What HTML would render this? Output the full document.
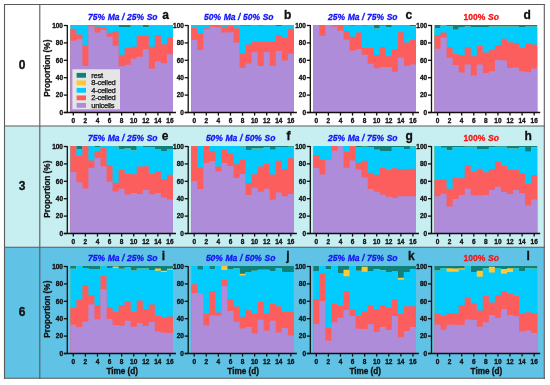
<!DOCTYPE html>
<html><head><meta charset="utf-8"><style>
html,body{margin:0;padding:0;background:#fff;}
svg{display:block;}
text{font-family:"Liberation Sans",Arial,sans-serif;font-weight:bold;fill:#111;}
.yt{font-size:6.5px;text-anchor:end;stroke:#111;stroke-width:0.3px;}
.xt{font-size:6.5px;text-anchor:middle;stroke:#111;stroke-width:0.3px;}
.yl{font-size:8.5px;text-anchor:middle;stroke:#111;stroke-width:0.25px;}
.xl{font-size:8.7px;stroke:#111;stroke-width:0.35px;}
.tt{font-size:8.5px;font-style:italic;fill:#1414f8;stroke:#1414f8;stroke-width:0.3px;word-spacing:0.25px;}
.tr{font-size:8.5px;fill:#fa1414;stroke:#fa1414;stroke-width:0.3px;word-spacing:0.4px;}
.lt{font-size:12px;stroke:#111;stroke-width:0.3px;}
.lg{font-size:7.6px;font-weight:normal;fill:#111;stroke:#111;stroke-width:0.25px;letter-spacing:-0.3px;}
.rl{font-size:12px;text-anchor:middle;stroke:#111;stroke-width:0.3px;}
</style></head><body>
<svg width="550" height="385" viewBox="0 0 550 385">
<rect x="0" y="0" width="550" height="385" fill="#fff"/>
<rect x="4" y="126" width="540" height="121.3" fill="#c7eef1"/>
<rect x="4" y="247.3" width="540" height="131" fill="#60c2e4"/>
<rect x="70.30" y="25.00" width="102.68" height="87.00" fill="#10807b"/>
<path d="M70.30 112 L70.30 25.00 L76.34 25.00 L76.34 25.00 L82.38 25.00 L82.38 25.00 L88.42 25.00 L88.42 25.00 L94.46 25.00 L94.46 25.00 L100.50 25.00 L100.50 25.00 L106.54 25.00 L106.54 25.00 L112.58 25.00 L112.58 25.00 L118.62 25.00 L118.62 27.00 L124.66 27.00 L124.66 27.00 L130.70 27.00 L130.70 25.00 L136.74 25.00 L136.74 25.00 L142.78 25.00 L142.78 27.17 L148.82 27.17 L148.82 25.00 L154.86 25.00 L154.86 25.35 L160.90 25.35 L160.90 25.35 L166.94 25.35 L166.94 25.00 L172.98 25.00 L172.98 112 Z" fill="#ffc834"/>
<path d="M70.30 112 L70.30 25.00 L76.34 25.00 L76.34 25.00 L82.38 25.00 L82.38 25.00 L88.42 25.00 L88.42 25.00 L94.46 25.00 L94.46 25.00 L100.50 25.00 L100.50 25.00 L106.54 25.00 L106.54 25.00 L112.58 25.00 L112.58 25.00 L118.62 25.00 L118.62 27.00 L124.66 27.00 L124.66 27.00 L130.70 27.00 L130.70 25.00 L136.74 25.00 L136.74 25.00 L142.78 25.00 L142.78 27.17 L148.82 27.17 L148.82 25.00 L154.86 25.00 L154.86 25.35 L160.90 25.35 L160.90 25.35 L166.94 25.35 L166.94 25.00 L172.98 25.00 L172.98 112 Z" fill="#02ccfd"/>
<path d="M70.30 112 L70.30 28.74 L76.34 28.74 L76.34 34.48 L82.38 34.48 L82.38 45.71 L88.42 45.71 L88.42 25.00 L94.46 25.00 L94.46 26.74 L100.50 26.74 L100.50 27.87 L106.54 27.87 L106.54 32.74 L112.58 32.74 L112.58 31.70 L118.62 31.70 L118.62 54.67 L124.66 54.67 L124.66 47.97 L130.70 47.97 L130.70 46.66 L136.74 46.66 L136.74 35.70 L142.78 35.70 L142.78 35.53 L148.82 35.53 L148.82 46.84 L154.86 46.84 L154.86 35.00 L160.90 35.00 L160.90 44.23 L166.94 44.23 L166.94 37.70 L172.98 37.70 L172.98 112 Z" fill="#fc5e5e"/>
<path d="M70.30 112 L70.30 40.66 L76.34 40.66 L76.34 39.18 L82.38 39.18 L82.38 65.89 L88.42 65.89 L88.42 26.48 L94.46 26.48 L94.46 32.48 L100.50 32.48 L100.50 29.70 L106.54 29.70 L106.54 36.66 L112.58 36.66 L112.58 45.71 L118.62 45.71 L118.62 66.24 L124.66 66.24 L124.66 64.67 L130.70 64.67 L130.70 58.67 L136.74 58.67 L136.74 56.67 L142.78 56.67 L142.78 49.19 L148.82 49.19 L148.82 68.67 L154.86 68.67 L154.86 61.19 L160.90 61.19 L160.90 63.19 L166.94 63.19 L166.94 54.23 L172.98 54.23 L172.98 112 Z" fill="#af8cd9"/>
<path d="M67.30 25 V113 M63.80 112.5 H175.98" stroke="#111" stroke-width="1.3" fill="none"/>
<path d="M63.80 112.50 H67.3" stroke="#111" stroke-width="1.3"/>
<text x="63.00" y="114.80" class="yt">0</text>
<path d="M63.80 95.10 H67.3" stroke="#111" stroke-width="1.3"/>
<text x="63.00" y="97.40" class="yt">20</text>
<path d="M63.80 77.70 H67.3" stroke="#111" stroke-width="1.3"/>
<text x="63.00" y="80.00" class="yt">40</text>
<path d="M63.80 60.30 H67.3" stroke="#111" stroke-width="1.3"/>
<text x="63.00" y="62.60" class="yt">60</text>
<path d="M63.80 42.90 H67.3" stroke="#111" stroke-width="1.3"/>
<text x="63.00" y="45.20" class="yt">80</text>
<path d="M63.80 25.50 H67.3" stroke="#111" stroke-width="1.3"/>
<text x="63.00" y="27.80" class="yt">100</text>
<path d="M73.32 113 V115.6" stroke="#111" stroke-width="1.3"/>
<text x="73.32" y="122.60" class="xt">0</text>
<path d="M85.40 113 V115.6" stroke="#111" stroke-width="1.3"/>
<text x="85.40" y="122.60" class="xt">2</text>
<path d="M97.48 113 V115.6" stroke="#111" stroke-width="1.3"/>
<text x="97.48" y="122.60" class="xt">4</text>
<path d="M109.56 113 V115.6" stroke="#111" stroke-width="1.3"/>
<text x="109.56" y="122.60" class="xt">6</text>
<path d="M121.64 113 V115.6" stroke="#111" stroke-width="1.3"/>
<text x="121.64" y="122.60" class="xt">8</text>
<path d="M133.72 113 V115.6" stroke="#111" stroke-width="1.3"/>
<text x="133.72" y="122.60" class="xt">10</text>
<path d="M145.80 113 V115.6" stroke="#111" stroke-width="1.3"/>
<text x="145.80" y="122.60" class="xt">12</text>
<path d="M157.88 113 V115.6" stroke="#111" stroke-width="1.3"/>
<text x="157.88" y="122.60" class="xt">14</text>
<path d="M169.96 113 V115.6" stroke="#111" stroke-width="1.3"/>
<text x="169.96" y="122.60" class="xt">16</text>
<text transform="translate(49.90,68.20) rotate(-90)" class="yl" textLength="57.2" lengthAdjust="spacingAndGlyphs">Proportion (%)</text>
<text x="88.00" y="19.5" class="tt">75%<tspan> Ma</tspan> / 25%<tspan> So</tspan></text>
<text x="162.20" y="18.70" class="lt">a</text>
<rect x="191.20" y="25.00" width="102.68" height="87.00" fill="#10807b"/>
<path d="M191.20 112 L191.20 25.00 L197.24 25.00 L197.24 25.00 L203.28 25.00 L203.28 25.00 L209.32 25.00 L209.32 25.00 L215.36 25.00 L215.36 25.00 L221.40 25.00 L221.40 25.00 L227.44 25.00 L227.44 25.00 L233.48 25.00 L233.48 25.00 L239.52 25.00 L239.52 25.70 L245.56 25.70 L245.56 25.70 L251.60 25.70 L251.60 25.00 L257.64 25.00 L257.64 25.87 L263.68 25.87 L263.68 25.00 L269.72 25.00 L269.72 25.00 L275.76 25.00 L275.76 26.04 L281.80 26.04 L281.80 25.00 L287.84 25.00 L287.84 25.00 L293.88 25.00 L293.88 112 Z" fill="#ffc834"/>
<path d="M191.20 112 L191.20 25.00 L197.24 25.00 L197.24 25.00 L203.28 25.00 L203.28 25.00 L209.32 25.00 L209.32 25.00 L215.36 25.00 L215.36 25.00 L221.40 25.00 L221.40 25.00 L227.44 25.00 L227.44 25.00 L233.48 25.00 L233.48 25.00 L239.52 25.00 L239.52 25.70 L245.56 25.70 L245.56 25.70 L251.60 25.70 L251.60 25.00 L257.64 25.00 L257.64 25.87 L263.68 25.87 L263.68 25.00 L269.72 25.00 L269.72 25.00 L275.76 25.00 L275.76 26.04 L281.80 26.04 L281.80 25.00 L287.84 25.00 L287.84 25.00 L293.88 25.00 L293.88 112 Z" fill="#02ccfd"/>
<path d="M191.20 112 L191.20 27.96 L197.24 27.96 L197.24 33.96 L203.28 33.96 L203.28 28.22 L209.32 28.22 L209.32 25.00 L215.36 25.00 L215.36 25.44 L221.40 25.44 L221.40 26.74 L227.44 26.74 L227.44 25.96 L233.48 25.96 L233.48 28.31 L239.52 28.31 L239.52 53.80 L245.56 53.80 L245.56 44.49 L251.60 44.49 L251.60 41.97 L257.64 41.97 L257.64 41.97 L263.68 41.97 L263.68 41.97 L269.72 41.97 L269.72 41.18 L275.76 41.18 L275.76 35.00 L281.80 35.00 L281.80 37.96 L287.84 37.96 L287.84 28.83 L293.88 28.83 L293.88 112 Z" fill="#fc5e5e"/>
<path d="M191.20 112 L191.20 39.96 L197.24 39.96 L197.24 49.97 L203.28 49.97 L203.28 29.35 L209.32 29.35 L209.32 26.74 L215.36 26.74 L215.36 27.61 L221.40 27.61 L221.40 32.39 L227.44 32.39 L227.44 32.13 L233.48 32.13 L233.48 42.40 L239.52 42.40 L239.52 67.98 L245.56 67.98 L245.56 63.54 L251.60 63.54 L251.60 52.23 L257.64 52.23 L257.64 65.98 L263.68 65.98 L263.68 51.97 L269.72 51.97 L269.72 65.98 L275.76 65.98 L275.76 51.01 L281.80 51.01 L281.80 60.50 L287.84 60.50 L287.84 53.80 L293.88 53.80 L293.88 112 Z" fill="#af8cd9"/>
<path d="M188.20 25 V113 M184.70 112.5 H296.88" stroke="#111" stroke-width="1.3" fill="none"/>
<path d="M184.70 112.50 H188.2" stroke="#111" stroke-width="1.3"/>
<text x="183.90" y="114.80" class="yt">0</text>
<path d="M184.70 95.10 H188.2" stroke="#111" stroke-width="1.3"/>
<text x="183.90" y="97.40" class="yt">20</text>
<path d="M184.70 77.70 H188.2" stroke="#111" stroke-width="1.3"/>
<text x="183.90" y="80.00" class="yt">40</text>
<path d="M184.70 60.30 H188.2" stroke="#111" stroke-width="1.3"/>
<text x="183.90" y="62.60" class="yt">60</text>
<path d="M184.70 42.90 H188.2" stroke="#111" stroke-width="1.3"/>
<text x="183.90" y="45.20" class="yt">80</text>
<path d="M184.70 25.50 H188.2" stroke="#111" stroke-width="1.3"/>
<text x="183.90" y="27.80" class="yt">100</text>
<path d="M194.22 113 V115.6" stroke="#111" stroke-width="1.3"/>
<text x="194.22" y="122.60" class="xt">0</text>
<path d="M206.30 113 V115.6" stroke="#111" stroke-width="1.3"/>
<text x="206.30" y="122.60" class="xt">2</text>
<path d="M218.38 113 V115.6" stroke="#111" stroke-width="1.3"/>
<text x="218.38" y="122.60" class="xt">4</text>
<path d="M230.46 113 V115.6" stroke="#111" stroke-width="1.3"/>
<text x="230.46" y="122.60" class="xt">6</text>
<path d="M242.54 113 V115.6" stroke="#111" stroke-width="1.3"/>
<text x="242.54" y="122.60" class="xt">8</text>
<path d="M254.62 113 V115.6" stroke="#111" stroke-width="1.3"/>
<text x="254.62" y="122.60" class="xt">10</text>
<path d="M266.70 113 V115.6" stroke="#111" stroke-width="1.3"/>
<text x="266.70" y="122.60" class="xt">12</text>
<path d="M278.78 113 V115.6" stroke="#111" stroke-width="1.3"/>
<text x="278.78" y="122.60" class="xt">14</text>
<path d="M290.86 113 V115.6" stroke="#111" stroke-width="1.3"/>
<text x="290.86" y="122.60" class="xt">16</text>
<text x="204.00" y="19.5" class="tt">50%<tspan> Ma</tspan> / 50%<tspan> So</tspan></text>
<text x="284.00" y="18.70" class="lt">b</text>
<rect x="313.30" y="25.00" width="102.68" height="87.00" fill="#10807b"/>
<path d="M313.30 112 L313.30 25.00 L319.34 25.00 L319.34 25.00 L325.38 25.00 L325.38 25.00 L331.42 25.00 L331.42 25.00 L337.46 25.00 L337.46 25.00 L343.50 25.00 L343.50 25.00 L349.54 25.00 L349.54 25.70 L355.58 25.70 L355.58 25.00 L361.62 25.00 L361.62 25.70 L367.66 25.70 L367.66 25.00 L373.70 25.00 L373.70 28.48 L379.74 28.48 L379.74 25.87 L385.78 25.87 L385.78 27.00 L391.82 27.00 L391.82 25.00 L397.86 25.00 L397.86 25.61 L403.90 25.61 L403.90 25.00 L409.94 25.00 L409.94 26.31 L415.98 26.31 L415.98 112 Z" fill="#ffc834"/>
<path d="M313.30 112 L313.30 25.00 L319.34 25.00 L319.34 25.00 L325.38 25.00 L325.38 25.00 L331.42 25.00 L331.42 25.00 L337.46 25.00 L337.46 25.00 L343.50 25.00 L343.50 25.00 L349.54 25.00 L349.54 25.70 L355.58 25.70 L355.58 25.00 L361.62 25.00 L361.62 25.70 L367.66 25.70 L367.66 25.00 L373.70 25.00 L373.70 28.48 L379.74 28.48 L379.74 25.87 L385.78 25.87 L385.78 27.00 L391.82 27.00 L391.82 25.00 L397.86 25.00 L397.86 25.61 L403.90 25.61 L403.90 25.00 L409.94 25.00 L409.94 26.31 L415.98 26.31 L415.98 112 Z" fill="#02ccfd"/>
<path d="M313.30 112 L313.30 25.00 L319.34 25.00 L319.34 25.00 L325.38 25.00 L325.38 25.00 L331.42 25.00 L331.42 25.00 L337.46 25.00 L337.46 25.00 L343.50 25.00 L343.50 31.00 L349.54 31.00 L349.54 36.83 L355.58 36.83 L355.58 32.48 L361.62 32.48 L361.62 47.97 L367.66 47.97 L367.66 47.79 L373.70 47.79 L373.70 55.02 L379.74 55.02 L379.74 47.01 L385.78 47.01 L385.78 56.32 L391.82 56.32 L391.82 49.01 L397.86 49.01 L397.86 32.22 L403.90 32.22 L403.90 42.49 L409.94 42.49 L409.94 39.96 L415.98 39.96 L415.98 112 Z" fill="#fc5e5e"/>
<path d="M313.30 112 L313.30 25.00 L319.34 25.00 L319.34 35.79 L325.38 35.79 L325.38 25.00 L331.42 25.00 L331.42 26.57 L337.46 26.57 L337.46 30.83 L343.50 30.83 L343.50 39.53 L349.54 39.53 L349.54 50.84 L355.58 50.84 L355.58 49.01 L361.62 49.01 L361.62 54.67 L367.66 54.67 L367.66 63.80 L373.70 63.80 L373.70 68.24 L379.74 68.24 L379.74 67.02 L385.78 67.02 L385.78 67.02 L391.82 67.02 L391.82 71.81 L397.86 71.81 L397.86 57.54 L403.90 57.54 L403.90 65.98 L409.94 65.98 L409.94 64.50 L415.98 64.50 L415.98 112 Z" fill="#af8cd9"/>
<path d="M310.30 25 V113 M306.80 112.5 H418.98" stroke="#111" stroke-width="1.3" fill="none"/>
<path d="M306.80 112.50 H310.3" stroke="#111" stroke-width="1.3"/>
<text x="306.00" y="114.80" class="yt">0</text>
<path d="M306.80 95.10 H310.3" stroke="#111" stroke-width="1.3"/>
<text x="306.00" y="97.40" class="yt">20</text>
<path d="M306.80 77.70 H310.3" stroke="#111" stroke-width="1.3"/>
<text x="306.00" y="80.00" class="yt">40</text>
<path d="M306.80 60.30 H310.3" stroke="#111" stroke-width="1.3"/>
<text x="306.00" y="62.60" class="yt">60</text>
<path d="M306.80 42.90 H310.3" stroke="#111" stroke-width="1.3"/>
<text x="306.00" y="45.20" class="yt">80</text>
<path d="M306.80 25.50 H310.3" stroke="#111" stroke-width="1.3"/>
<text x="306.00" y="27.80" class="yt">100</text>
<path d="M316.32 113 V115.6" stroke="#111" stroke-width="1.3"/>
<text x="316.32" y="122.60" class="xt">0</text>
<path d="M328.40 113 V115.6" stroke="#111" stroke-width="1.3"/>
<text x="328.40" y="122.60" class="xt">2</text>
<path d="M340.48 113 V115.6" stroke="#111" stroke-width="1.3"/>
<text x="340.48" y="122.60" class="xt">4</text>
<path d="M352.56 113 V115.6" stroke="#111" stroke-width="1.3"/>
<text x="352.56" y="122.60" class="xt">6</text>
<path d="M364.64 113 V115.6" stroke="#111" stroke-width="1.3"/>
<text x="364.64" y="122.60" class="xt">8</text>
<path d="M376.72 113 V115.6" stroke="#111" stroke-width="1.3"/>
<text x="376.72" y="122.60" class="xt">10</text>
<path d="M388.80 113 V115.6" stroke="#111" stroke-width="1.3"/>
<text x="388.80" y="122.60" class="xt">12</text>
<path d="M400.88 113 V115.6" stroke="#111" stroke-width="1.3"/>
<text x="400.88" y="122.60" class="xt">14</text>
<path d="M412.96 113 V115.6" stroke="#111" stroke-width="1.3"/>
<text x="412.96" y="122.60" class="xt">16</text>
<text x="328.00" y="19.5" class="tt">25%<tspan> Ma</tspan> / 75%<tspan> So</tspan></text>
<text x="405.60" y="18.70" class="lt">c</text>
<rect x="434.50" y="25.00" width="102.68" height="87.00" fill="#10807b"/>
<path d="M434.50 112 L434.50 28.05 L440.54 28.05 L440.54 25.61 L446.58 25.61 L446.58 26.31 L452.62 26.31 L452.62 29.87 L458.66 29.87 L458.66 27.44 L464.70 27.44 L464.70 26.48 L470.74 26.48 L470.74 27.00 L476.78 27.00 L476.78 27.00 L482.82 27.00 L482.82 27.52 L488.86 27.52 L488.86 26.39 L494.90 26.39 L494.90 26.39 L500.94 26.39 L500.94 26.39 L506.98 26.39 L506.98 26.39 L513.02 26.39 L513.02 26.39 L519.06 26.39 L519.06 27.52 L525.10 27.52 L525.10 26.57 L531.14 26.57 L531.14 26.39 L537.18 26.39 L537.18 112 Z" fill="#ffc834"/>
<path d="M434.50 112 L434.50 28.05 L440.54 28.05 L440.54 25.61 L446.58 25.61 L446.58 26.31 L452.62 26.31 L452.62 29.87 L458.66 29.87 L458.66 27.44 L464.70 27.44 L464.70 26.48 L470.74 26.48 L470.74 27.00 L476.78 27.00 L476.78 27.00 L482.82 27.00 L482.82 27.52 L488.86 27.52 L488.86 26.39 L494.90 26.39 L494.90 26.39 L500.94 26.39 L500.94 26.39 L506.98 26.39 L506.98 26.39 L513.02 26.39 L513.02 26.39 L519.06 26.39 L519.06 27.52 L525.10 27.52 L525.10 26.57 L531.14 26.57 L531.14 26.39 L537.18 26.39 L537.18 112 Z" fill="#02ccfd"/>
<path d="M434.50 112 L434.50 35.00 L440.54 35.00 L440.54 32.48 L446.58 32.48 L446.58 47.19 L452.62 47.19 L452.62 53.97 L458.66 53.97 L458.66 55.02 L464.70 55.02 L464.70 47.10 L470.74 47.10 L470.74 56.23 L476.78 56.23 L476.78 45.88 L482.82 45.88 L482.82 52.49 L488.86 52.49 L488.86 49.80 L494.90 49.80 L494.90 45.01 L500.94 45.01 L500.94 38.83 L506.98 38.83 L506.98 42.31 L513.02 42.31 L513.02 43.01 L519.06 43.01 L519.06 47.97 L525.10 47.97 L525.10 43.27 L531.14 43.27 L531.14 44.49 L537.18 44.49 L537.18 112 Z" fill="#fc5e5e"/>
<path d="M434.50 112 L434.50 48.84 L440.54 48.84 L440.54 37.53 L446.58 37.53 L446.58 57.80 L452.62 57.80 L452.62 65.02 L458.66 65.02 L458.66 72.50 L464.70 72.50 L464.70 64.50 L470.74 64.50 L470.74 75.55 L476.78 75.55 L476.78 64.50 L482.82 64.50 L482.82 73.02 L488.86 73.02 L488.86 71.20 L494.90 71.20 L494.90 59.97 L500.94 59.97 L500.94 60.50 L506.98 60.50 L506.98 67.98 L513.02 67.98 L513.02 67.54 L519.06 67.54 L519.06 71.20 L525.10 71.20 L525.10 72.24 L531.14 72.24 L531.14 68.50 L537.18 68.50 L537.18 112 Z" fill="#af8cd9"/>
<path d="M431.50 25 V113 M428.00 112.5 H540.18" stroke="#111" stroke-width="1.3" fill="none"/>
<path d="M428.00 112.50 H431.5" stroke="#111" stroke-width="1.3"/>
<text x="427.20" y="114.80" class="yt">0</text>
<path d="M428.00 95.10 H431.5" stroke="#111" stroke-width="1.3"/>
<text x="427.20" y="97.40" class="yt">20</text>
<path d="M428.00 77.70 H431.5" stroke="#111" stroke-width="1.3"/>
<text x="427.20" y="80.00" class="yt">40</text>
<path d="M428.00 60.30 H431.5" stroke="#111" stroke-width="1.3"/>
<text x="427.20" y="62.60" class="yt">60</text>
<path d="M428.00 42.90 H431.5" stroke="#111" stroke-width="1.3"/>
<text x="427.20" y="45.20" class="yt">80</text>
<path d="M428.00 25.50 H431.5" stroke="#111" stroke-width="1.3"/>
<text x="427.20" y="27.80" class="yt">100</text>
<path d="M437.52 113 V115.6" stroke="#111" stroke-width="1.3"/>
<text x="437.52" y="122.60" class="xt">0</text>
<path d="M449.60 113 V115.6" stroke="#111" stroke-width="1.3"/>
<text x="449.60" y="122.60" class="xt">2</text>
<path d="M461.68 113 V115.6" stroke="#111" stroke-width="1.3"/>
<text x="461.68" y="122.60" class="xt">4</text>
<path d="M473.76 113 V115.6" stroke="#111" stroke-width="1.3"/>
<text x="473.76" y="122.60" class="xt">6</text>
<path d="M485.84 113 V115.6" stroke="#111" stroke-width="1.3"/>
<text x="485.84" y="122.60" class="xt">8</text>
<path d="M497.92 113 V115.6" stroke="#111" stroke-width="1.3"/>
<text x="497.92" y="122.60" class="xt">10</text>
<path d="M510.00 113 V115.6" stroke="#111" stroke-width="1.3"/>
<text x="510.00" y="122.60" class="xt">12</text>
<path d="M522.08 113 V115.6" stroke="#111" stroke-width="1.3"/>
<text x="522.08" y="122.60" class="xt">14</text>
<path d="M534.16 113 V115.6" stroke="#111" stroke-width="1.3"/>
<text x="534.16" y="122.60" class="xt">16</text>
<text x="463.60" y="19.5" class="tr">100% <tspan font-style="italic">So</tspan></text>
<text x="523.60" y="18.70" class="lt">d</text>
<rect x="70.30" y="146.00" width="102.68" height="87.00" fill="#10807b"/>
<path d="M70.30 233 L70.30 146.00 L76.34 146.00 L76.34 149.48 L82.38 149.48 L82.38 146.00 L88.42 146.00 L88.42 146.00 L94.46 146.00 L94.46 147.31 L100.50 147.31 L100.50 146.00 L106.54 146.00 L106.54 146.00 L112.58 146.00 L112.58 146.44 L118.62 146.44 L118.62 148.96 L124.66 148.96 L124.66 148.52 L130.70 148.52 L130.70 150.26 L136.74 150.26 L136.74 146.00 L142.78 146.00 L142.78 146.96 L148.82 146.96 L148.82 146.96 L154.86 146.96 L154.86 148.96 L160.90 148.96 L160.90 151.48 L166.94 151.48 L166.94 148.96 L172.98 148.96 L172.98 233 Z" fill="#ffc834"/>
<path d="M70.30 233 L70.30 146.00 L76.34 146.00 L76.34 149.48 L82.38 149.48 L82.38 146.00 L88.42 146.00 L88.42 146.00 L94.46 146.00 L94.46 147.31 L100.50 147.31 L100.50 146.00 L106.54 146.00 L106.54 146.00 L112.58 146.00 L112.58 146.44 L118.62 146.44 L118.62 148.96 L124.66 148.96 L124.66 148.52 L130.70 148.52 L130.70 150.26 L136.74 150.26 L136.74 146.00 L142.78 146.00 L142.78 146.96 L148.82 146.96 L148.82 146.96 L154.86 146.96 L154.86 148.96 L160.90 148.96 L160.90 151.48 L166.94 151.48 L166.94 148.96 L172.98 148.96 L172.98 233 Z" fill="#02ccfd"/>
<path d="M70.30 233 L70.30 146.00 L76.34 146.00 L76.34 156.00 L82.38 156.00 L82.38 146.00 L88.42 146.00 L88.42 160.53 L94.46 160.53 L94.46 151.48 L100.50 151.48 L100.50 148.00 L106.54 148.00 L106.54 165.49 L112.58 165.49 L112.58 182.80 L118.62 182.80 L118.62 170.01 L124.66 170.01 L124.66 174.01 L130.70 174.01 L130.70 174.28 L136.74 174.28 L136.74 166.53 L142.78 166.53 L142.78 166.18 L148.82 166.18 L148.82 174.01 L154.86 174.01 L154.86 171.23 L160.90 171.23 L160.90 179.15 L166.94 179.15 L166.94 174.80 L172.98 174.80 L172.98 233 Z" fill="#fc5e5e"/>
<path d="M70.30 233 L70.30 171.93 L76.34 171.93 L76.34 182.19 L82.38 182.19 L82.38 188.54 L88.42 188.54 L88.42 168.01 L94.46 168.01 L94.46 158.01 L100.50 158.01 L100.50 166.53 L106.54 166.53 L106.54 181.76 L112.58 181.76 L112.58 191.50 L118.62 191.50 L118.62 188.63 L124.66 188.63 L124.66 194.46 L130.70 194.46 L130.70 192.98 L136.74 192.98 L136.74 194.02 L142.78 194.02 L142.78 190.02 L148.82 190.02 L148.82 194.20 L154.86 194.20 L154.86 192.98 L160.90 192.98 L160.90 197.50 L166.94 197.50 L166.94 199.50 L172.98 199.50 L172.98 233 Z" fill="#af8cd9"/>
<path d="M67.30 146 V234 M63.80 233.5 H175.98" stroke="#111" stroke-width="1.3" fill="none"/>
<path d="M63.80 233.50 H67.3" stroke="#111" stroke-width="1.3"/>
<text x="63.00" y="235.80" class="yt">0</text>
<path d="M63.80 216.10 H67.3" stroke="#111" stroke-width="1.3"/>
<text x="63.00" y="218.40" class="yt">20</text>
<path d="M63.80 198.70 H67.3" stroke="#111" stroke-width="1.3"/>
<text x="63.00" y="201.00" class="yt">40</text>
<path d="M63.80 181.30 H67.3" stroke="#111" stroke-width="1.3"/>
<text x="63.00" y="183.60" class="yt">60</text>
<path d="M63.80 163.90 H67.3" stroke="#111" stroke-width="1.3"/>
<text x="63.00" y="166.20" class="yt">80</text>
<path d="M63.80 146.50 H67.3" stroke="#111" stroke-width="1.3"/>
<text x="63.00" y="148.80" class="yt">100</text>
<path d="M73.32 234 V236.6" stroke="#111" stroke-width="1.3"/>
<text x="73.32" y="243.60" class="xt">0</text>
<path d="M85.40 234 V236.6" stroke="#111" stroke-width="1.3"/>
<text x="85.40" y="243.60" class="xt">2</text>
<path d="M97.48 234 V236.6" stroke="#111" stroke-width="1.3"/>
<text x="97.48" y="243.60" class="xt">4</text>
<path d="M109.56 234 V236.6" stroke="#111" stroke-width="1.3"/>
<text x="109.56" y="243.60" class="xt">6</text>
<path d="M121.64 234 V236.6" stroke="#111" stroke-width="1.3"/>
<text x="121.64" y="243.60" class="xt">8</text>
<path d="M133.72 234 V236.6" stroke="#111" stroke-width="1.3"/>
<text x="133.72" y="243.60" class="xt">10</text>
<path d="M145.80 234 V236.6" stroke="#111" stroke-width="1.3"/>
<text x="145.80" y="243.60" class="xt">12</text>
<path d="M157.88 234 V236.6" stroke="#111" stroke-width="1.3"/>
<text x="157.88" y="243.60" class="xt">14</text>
<path d="M169.96 234 V236.6" stroke="#111" stroke-width="1.3"/>
<text x="169.96" y="243.60" class="xt">16</text>
<text transform="translate(49.90,189.20) rotate(-90)" class="yl" textLength="57.2" lengthAdjust="spacingAndGlyphs">Proportion (%)</text>
<text x="88.00" y="140.5" class="tt">75%<tspan> Ma</tspan> / 25%<tspan> So</tspan></text>
<text x="161.70" y="139.70" class="lt">e</text>
<rect x="191.20" y="146.00" width="102.68" height="87.00" fill="#10807b"/>
<path d="M191.20 233 L191.20 146.00 L197.24 146.00 L197.24 146.00 L203.28 146.00 L203.28 146.00 L209.32 146.00 L209.32 146.00 L215.36 146.00 L215.36 146.00 L221.40 146.00 L221.40 146.00 L227.44 146.00 L227.44 146.00 L233.48 146.00 L233.48 146.00 L239.52 146.00 L239.52 146.44 L245.56 146.44 L245.56 150.00 L251.60 150.00 L251.60 148.52 L257.64 148.52 L257.64 148.52 L263.68 148.52 L263.68 147.31 L269.72 147.31 L269.72 149.83 L275.76 149.83 L275.76 147.31 L281.80 147.31 L281.80 146.96 L287.84 146.96 L287.84 146.78 L293.88 146.78 L293.88 233 Z" fill="#ffc834"/>
<path d="M191.20 233 L191.20 146.00 L197.24 146.00 L197.24 146.00 L203.28 146.00 L203.28 146.00 L209.32 146.00 L209.32 146.00 L215.36 146.00 L215.36 146.00 L221.40 146.00 L221.40 146.00 L227.44 146.00 L227.44 146.00 L233.48 146.00 L233.48 146.00 L239.52 146.00 L239.52 146.44 L245.56 146.44 L245.56 150.00 L251.60 150.00 L251.60 148.52 L257.64 148.52 L257.64 148.52 L263.68 148.52 L263.68 147.31 L269.72 147.31 L269.72 149.83 L275.76 149.83 L275.76 147.31 L281.80 147.31 L281.80 146.96 L287.84 146.96 L287.84 146.78 L293.88 146.78 L293.88 233 Z" fill="#02ccfd"/>
<path d="M191.20 233 L191.20 146.00 L197.24 146.00 L197.24 167.49 L203.28 167.49 L203.28 146.00 L209.32 146.00 L209.32 150.96 L215.36 150.96 L215.36 166.53 L221.40 166.53 L221.40 149.83 L227.44 149.83 L227.44 153.48 L233.48 153.48 L233.48 164.27 L239.52 164.27 L239.52 159.49 L245.56 159.49 L245.56 182.97 L251.60 182.97 L251.60 174.28 L257.64 174.28 L257.64 166.53 L263.68 166.53 L263.68 163.83 L269.72 163.83 L269.72 174.54 L275.76 174.54 L275.76 160.79 L281.80 160.79 L281.80 168.97 L287.84 168.97 L287.84 158.18 L293.88 158.18 L293.88 233 Z" fill="#fc5e5e"/>
<path d="M191.20 233 L191.20 180.97 L197.24 180.97 L197.24 188.98 L203.28 188.98 L203.28 162.97 L209.32 162.97 L209.32 160.96 L215.36 160.96 L215.36 171.49 L221.40 171.49 L221.40 162.97 L227.44 162.97 L227.44 166.01 L233.48 166.01 L233.48 177.93 L239.52 177.93 L239.52 174.01 L245.56 174.01 L245.56 194.98 L251.60 194.98 L251.60 187.76 L257.64 187.76 L257.64 191.76 L263.68 191.76 L263.68 188.80 L269.72 188.80 L269.72 199.77 L275.76 199.77 L275.76 192.46 L281.80 192.46 L281.80 196.20 L287.84 196.20 L287.84 194.02 L293.88 194.02 L293.88 233 Z" fill="#af8cd9"/>
<path d="M188.20 146 V234 M184.70 233.5 H296.88" stroke="#111" stroke-width="1.3" fill="none"/>
<path d="M184.70 233.50 H188.2" stroke="#111" stroke-width="1.3"/>
<text x="183.90" y="235.80" class="yt">0</text>
<path d="M184.70 216.10 H188.2" stroke="#111" stroke-width="1.3"/>
<text x="183.90" y="218.40" class="yt">20</text>
<path d="M184.70 198.70 H188.2" stroke="#111" stroke-width="1.3"/>
<text x="183.90" y="201.00" class="yt">40</text>
<path d="M184.70 181.30 H188.2" stroke="#111" stroke-width="1.3"/>
<text x="183.90" y="183.60" class="yt">60</text>
<path d="M184.70 163.90 H188.2" stroke="#111" stroke-width="1.3"/>
<text x="183.90" y="166.20" class="yt">80</text>
<path d="M184.70 146.50 H188.2" stroke="#111" stroke-width="1.3"/>
<text x="183.90" y="148.80" class="yt">100</text>
<path d="M194.22 234 V236.6" stroke="#111" stroke-width="1.3"/>
<text x="194.22" y="243.60" class="xt">0</text>
<path d="M206.30 234 V236.6" stroke="#111" stroke-width="1.3"/>
<text x="206.30" y="243.60" class="xt">2</text>
<path d="M218.38 234 V236.6" stroke="#111" stroke-width="1.3"/>
<text x="218.38" y="243.60" class="xt">4</text>
<path d="M230.46 234 V236.6" stroke="#111" stroke-width="1.3"/>
<text x="230.46" y="243.60" class="xt">6</text>
<path d="M242.54 234 V236.6" stroke="#111" stroke-width="1.3"/>
<text x="242.54" y="243.60" class="xt">8</text>
<path d="M254.62 234 V236.6" stroke="#111" stroke-width="1.3"/>
<text x="254.62" y="243.60" class="xt">10</text>
<path d="M266.70 234 V236.6" stroke="#111" stroke-width="1.3"/>
<text x="266.70" y="243.60" class="xt">12</text>
<path d="M278.78 234 V236.6" stroke="#111" stroke-width="1.3"/>
<text x="278.78" y="243.60" class="xt">14</text>
<path d="M290.86 234 V236.6" stroke="#111" stroke-width="1.3"/>
<text x="290.86" y="243.60" class="xt">16</text>
<text x="205.90" y="140.5" class="tt">50%<tspan> Ma</tspan> / 50%<tspan> So</tspan></text>
<text x="286.60" y="139.70" class="lt">f</text>
<rect x="313.30" y="146.00" width="102.68" height="87.00" fill="#10807b"/>
<path d="M313.30 233 L313.30 146.00 L319.34 146.00 L319.34 146.00 L325.38 146.00 L325.38 146.00 L331.42 146.00 L331.42 146.00 L337.46 146.00 L337.46 146.00 L343.50 146.00 L343.50 146.00 L349.54 146.00 L349.54 146.00 L355.58 146.00 L355.58 147.31 L361.62 147.31 L361.62 146.70 L367.66 146.70 L367.66 146.96 L373.70 146.96 L373.70 149.83 L379.74 149.83 L379.74 151.48 L385.78 151.48 L385.78 151.48 L391.82 151.48 L391.82 147.31 L397.86 147.31 L397.86 146.96 L403.90 146.96 L403.90 148.96 L409.94 148.96 L409.94 146.61 L415.98 146.61 L415.98 233 Z" fill="#ffc834"/>
<path d="M313.30 233 L313.30 146.00 L319.34 146.00 L319.34 146.00 L325.38 146.00 L325.38 146.00 L331.42 146.00 L331.42 146.00 L337.46 146.00 L337.46 146.00 L343.50 146.00 L343.50 146.00 L349.54 146.00 L349.54 146.00 L355.58 146.00 L355.58 147.31 L361.62 147.31 L361.62 146.70 L367.66 146.70 L367.66 146.96 L373.70 146.96 L373.70 149.83 L379.74 149.83 L379.74 151.48 L385.78 151.48 L385.78 151.48 L391.82 151.48 L391.82 147.31 L397.86 147.31 L397.86 146.96 L403.90 146.96 L403.90 148.96 L409.94 148.96 L409.94 146.61 L415.98 146.61 L415.98 233 Z" fill="#02ccfd"/>
<path d="M313.30 233 L313.30 154.96 L319.34 154.96 L319.34 160.01 L325.38 160.01 L325.38 160.01 L331.42 160.01 L331.42 146.00 L337.46 146.00 L337.46 146.00 L343.50 146.00 L343.50 152.00 L349.54 152.00 L349.54 146.00 L355.58 146.00 L355.58 162.79 L361.62 162.79 L361.62 160.79 L367.66 160.79 L367.66 172.80 L373.70 172.80 L373.70 174.80 L379.74 174.80 L379.74 168.01 L385.78 168.01 L385.78 170.01 L391.82 170.01 L391.82 168.19 L397.86 168.19 L397.86 168.97 L403.90 168.97 L403.90 169.49 L409.94 169.49 L409.94 168.79 L415.98 168.79 L415.98 233 Z" fill="#fc5e5e"/>
<path d="M313.30 233 L313.30 168.01 L319.34 168.01 L319.34 174.54 L325.38 174.54 L325.38 160.01 L331.42 160.01 L331.42 150.78 L337.46 150.78 L337.46 146.00 L343.50 146.00 L343.50 167.84 L349.54 167.84 L349.54 160.53 L355.58 160.53 L355.58 169.58 L361.62 169.58 L361.62 177.49 L367.66 177.49 L367.66 188.98 L373.70 188.98 L373.70 191.76 L379.74 191.76 L379.74 194.46 L385.78 194.46 L385.78 196.81 L391.82 196.81 L391.82 198.03 L397.86 198.03 L397.86 196.20 L403.90 196.20 L403.90 196.20 L409.94 196.20 L409.94 196.20 L415.98 196.20 L415.98 233 Z" fill="#af8cd9"/>
<path d="M310.30 146 V234 M306.80 233.5 H418.98" stroke="#111" stroke-width="1.3" fill="none"/>
<path d="M306.80 233.50 H310.3" stroke="#111" stroke-width="1.3"/>
<text x="306.00" y="235.80" class="yt">0</text>
<path d="M306.80 216.10 H310.3" stroke="#111" stroke-width="1.3"/>
<text x="306.00" y="218.40" class="yt">20</text>
<path d="M306.80 198.70 H310.3" stroke="#111" stroke-width="1.3"/>
<text x="306.00" y="201.00" class="yt">40</text>
<path d="M306.80 181.30 H310.3" stroke="#111" stroke-width="1.3"/>
<text x="306.00" y="183.60" class="yt">60</text>
<path d="M306.80 163.90 H310.3" stroke="#111" stroke-width="1.3"/>
<text x="306.00" y="166.20" class="yt">80</text>
<path d="M306.80 146.50 H310.3" stroke="#111" stroke-width="1.3"/>
<text x="306.00" y="148.80" class="yt">100</text>
<path d="M316.32 234 V236.6" stroke="#111" stroke-width="1.3"/>
<text x="316.32" y="243.60" class="xt">0</text>
<path d="M328.40 234 V236.6" stroke="#111" stroke-width="1.3"/>
<text x="328.40" y="243.60" class="xt">2</text>
<path d="M340.48 234 V236.6" stroke="#111" stroke-width="1.3"/>
<text x="340.48" y="243.60" class="xt">4</text>
<path d="M352.56 234 V236.6" stroke="#111" stroke-width="1.3"/>
<text x="352.56" y="243.60" class="xt">6</text>
<path d="M364.64 234 V236.6" stroke="#111" stroke-width="1.3"/>
<text x="364.64" y="243.60" class="xt">8</text>
<path d="M376.72 234 V236.6" stroke="#111" stroke-width="1.3"/>
<text x="376.72" y="243.60" class="xt">10</text>
<path d="M388.80 234 V236.6" stroke="#111" stroke-width="1.3"/>
<text x="388.80" y="243.60" class="xt">12</text>
<path d="M400.88 234 V236.6" stroke="#111" stroke-width="1.3"/>
<text x="400.88" y="243.60" class="xt">14</text>
<path d="M412.96 234 V236.6" stroke="#111" stroke-width="1.3"/>
<text x="412.96" y="243.60" class="xt">16</text>
<text x="328.00" y="140.5" class="tt">25%<tspan> Ma</tspan> / 75%<tspan> So</tspan></text>
<text x="405.60" y="139.70" class="lt">g</text>
<rect x="434.50" y="146.00" width="102.68" height="87.00" fill="#10807b"/>
<path d="M434.50 233 L434.50 146.00 L440.54 146.00 L440.54 147.74 L446.58 147.74 L446.58 150.26 L452.62 150.26 L452.62 147.31 L458.66 147.31 L458.66 147.31 L464.70 147.31 L464.70 146.87 L470.74 146.87 L470.74 146.70 L476.78 146.70 L476.78 148.96 L482.82 148.96 L482.82 148.96 L488.86 148.96 L488.86 147.31 L494.90 147.31 L494.90 146.87 L500.94 146.87 L500.94 146.87 L506.98 146.87 L506.98 148.52 L513.02 148.52 L513.02 148.52 L519.06 148.52 L519.06 147.31 L525.10 147.31 L525.10 151.83 L531.14 151.83 L531.14 147.31 L537.18 147.31 L537.18 233 Z" fill="#ffc834"/>
<path d="M434.50 233 L434.50 146.00 L440.54 146.00 L440.54 147.74 L446.58 147.74 L446.58 150.26 L452.62 150.26 L452.62 147.31 L458.66 147.31 L458.66 147.31 L464.70 147.31 L464.70 146.87 L470.74 146.87 L470.74 146.70 L476.78 146.70 L476.78 148.96 L482.82 148.96 L482.82 148.96 L488.86 148.96 L488.86 147.31 L494.90 147.31 L494.90 146.87 L500.94 146.87 L500.94 146.87 L506.98 146.87 L506.98 148.52 L513.02 148.52 L513.02 148.52 L519.06 148.52 L519.06 147.31 L525.10 147.31 L525.10 151.83 L531.14 151.83 L531.14 147.31 L537.18 147.31 L537.18 233 Z" fill="#02ccfd"/>
<path d="M434.50 233 L434.50 180.02 L440.54 180.02 L440.54 179.50 L446.58 179.50 L446.58 188.80 L452.62 188.80 L452.62 178.02 L458.66 178.02 L458.66 178.19 L464.70 178.19 L464.70 164.97 L470.74 164.97 L470.74 171.84 L476.78 171.84 L476.78 168.79 L482.82 168.79 L482.82 172.19 L488.86 172.19 L488.86 169.23 L494.90 169.23 L494.90 161.49 L500.94 161.49 L500.94 166.01 L506.98 166.01 L506.98 170.01 L513.02 170.01 L513.02 170.01 L519.06 170.01 L519.06 173.32 L525.10 173.32 L525.10 183.50 L531.14 183.50 L531.14 174.97 L537.18 174.97 L537.18 233 Z" fill="#fc5e5e"/>
<path d="M434.50 233 L434.50 196.20 L440.54 196.20 L440.54 193.85 L446.58 193.85 L446.58 206.47 L452.62 206.47 L452.62 199.07 L458.66 199.07 L458.66 194.98 L464.70 194.98 L464.70 188.80 L470.74 188.80 L470.74 195.50 L476.78 195.50 L476.78 195.50 L482.82 195.50 L482.82 194.98 L488.86 194.98 L488.86 190.02 L494.90 190.02 L494.90 186.80 L500.94 186.80 L500.94 192.02 L506.98 192.02 L506.98 194.02 L513.02 194.02 L513.02 190.02 L519.06 190.02 L519.06 192.98 L525.10 192.98 L525.10 205.51 L531.14 205.51 L531.14 199.50 L537.18 199.50 L537.18 233 Z" fill="#af8cd9"/>
<path d="M431.50 146 V234 M428.00 233.5 H540.18" stroke="#111" stroke-width="1.3" fill="none"/>
<path d="M428.00 233.50 H431.5" stroke="#111" stroke-width="1.3"/>
<text x="427.20" y="235.80" class="yt">0</text>
<path d="M428.00 216.10 H431.5" stroke="#111" stroke-width="1.3"/>
<text x="427.20" y="218.40" class="yt">20</text>
<path d="M428.00 198.70 H431.5" stroke="#111" stroke-width="1.3"/>
<text x="427.20" y="201.00" class="yt">40</text>
<path d="M428.00 181.30 H431.5" stroke="#111" stroke-width="1.3"/>
<text x="427.20" y="183.60" class="yt">60</text>
<path d="M428.00 163.90 H431.5" stroke="#111" stroke-width="1.3"/>
<text x="427.20" y="166.20" class="yt">80</text>
<path d="M428.00 146.50 H431.5" stroke="#111" stroke-width="1.3"/>
<text x="427.20" y="148.80" class="yt">100</text>
<path d="M437.52 234 V236.6" stroke="#111" stroke-width="1.3"/>
<text x="437.52" y="243.60" class="xt">0</text>
<path d="M449.60 234 V236.6" stroke="#111" stroke-width="1.3"/>
<text x="449.60" y="243.60" class="xt">2</text>
<path d="M461.68 234 V236.6" stroke="#111" stroke-width="1.3"/>
<text x="461.68" y="243.60" class="xt">4</text>
<path d="M473.76 234 V236.6" stroke="#111" stroke-width="1.3"/>
<text x="473.76" y="243.60" class="xt">6</text>
<path d="M485.84 234 V236.6" stroke="#111" stroke-width="1.3"/>
<text x="485.84" y="243.60" class="xt">8</text>
<path d="M497.92 234 V236.6" stroke="#111" stroke-width="1.3"/>
<text x="497.92" y="243.60" class="xt">10</text>
<path d="M510.00 234 V236.6" stroke="#111" stroke-width="1.3"/>
<text x="510.00" y="243.60" class="xt">12</text>
<path d="M522.08 234 V236.6" stroke="#111" stroke-width="1.3"/>
<text x="522.08" y="243.60" class="xt">14</text>
<path d="M534.16 234 V236.6" stroke="#111" stroke-width="1.3"/>
<text x="534.16" y="243.60" class="xt">16</text>
<text x="463.60" y="140.5" class="tr">100% <tspan font-style="italic">So</tspan></text>
<text x="524.60" y="139.70" class="lt">h</text>
<rect x="70.30" y="266.00" width="102.68" height="87.00" fill="#10807b"/>
<path d="M70.30 353 L70.30 268.78 L76.34 268.78 L76.34 266.00 L82.38 266.00 L82.38 268.00 L88.42 268.00 L88.42 269.48 L94.46 269.48 L94.46 269.48 L100.50 269.48 L100.50 266.00 L106.54 266.00 L106.54 268.00 L112.58 268.00 L112.58 266.61 L118.62 266.61 L118.62 268.78 L124.66 268.78 L124.66 267.48 L130.70 267.48 L130.70 270.52 L136.74 270.52 L136.74 268.52 L142.78 268.52 L142.78 268.52 L148.82 268.52 L148.82 270.00 L154.86 270.00 L154.86 268.52 L160.90 268.52 L160.90 270.78 L166.94 270.78 L166.94 268.78 L172.98 268.78 L172.98 353 Z" fill="#ffc834"/>
<path d="M70.30 353 L70.30 268.78 L76.34 268.78 L76.34 266.00 L82.38 266.00 L82.38 268.00 L88.42 268.00 L88.42 269.48 L94.46 269.48 L94.46 269.48 L100.50 269.48 L100.50 266.00 L106.54 266.00 L106.54 268.00 L112.58 268.00 L112.58 268.00 L118.62 268.00 L118.62 268.78 L124.66 268.78 L124.66 267.48 L130.70 267.48 L130.70 270.52 L136.74 270.52 L136.74 268.52 L142.78 268.52 L142.78 268.52 L148.82 268.52 L148.82 270.00 L154.86 270.00 L154.86 270.78 L160.90 270.78 L160.90 272.00 L166.94 272.00 L166.94 269.83 L172.98 269.83 L172.98 353 Z" fill="#02ccfd"/>
<path d="M70.30 353 L70.30 307.50 L76.34 307.50 L76.34 300.02 L82.38 300.02 L82.38 284.97 L88.42 284.97 L88.42 294.97 L94.46 294.97 L94.46 304.98 L100.50 304.98 L100.50 276.00 L106.54 276.00 L106.54 307.24 L112.58 307.24 L112.58 311.76 L118.62 311.76 L118.62 304.98 L124.66 304.98 L124.66 300.97 L130.70 300.97 L130.70 311.76 L136.74 311.76 L136.74 300.54 L142.78 300.54 L142.78 308.98 L148.82 308.98 L148.82 304.54 L154.86 304.54 L154.86 316.02 L160.90 316.02 L160.90 317.50 L166.94 317.50 L166.94 316.46 L172.98 316.46 L172.98 353 Z" fill="#fc5e5e"/>
<path d="M70.30 353 L70.30 324.81 L76.34 324.81 L76.34 326.90 L82.38 326.90 L82.38 321.85 L88.42 321.85 L88.42 304.54 L94.46 304.54 L94.46 319.24 L100.50 319.24 L100.50 289.23 L106.54 289.23 L106.54 318.90 L112.58 318.90 L112.58 324.99 L118.62 324.99 L118.62 325.68 L124.66 325.68 L124.66 320.81 L130.70 320.81 L130.70 326.81 L136.74 326.81 L136.74 322.99 L142.78 322.99 L142.78 326.03 L148.82 326.03 L148.82 321.94 L154.86 321.94 L154.86 331.51 L160.90 331.51 L160.90 332.82 L166.94 332.82 L166.94 332.99 L172.98 332.99 L172.98 353 Z" fill="#af8cd9"/>
<path d="M67.30 266 V354 M63.80 353.5 H175.98" stroke="#111" stroke-width="1.3" fill="none"/>
<path d="M63.80 353.50 H67.3" stroke="#111" stroke-width="1.3"/>
<text x="63.00" y="355.80" class="yt">0</text>
<path d="M63.80 336.10 H67.3" stroke="#111" stroke-width="1.3"/>
<text x="63.00" y="338.40" class="yt">20</text>
<path d="M63.80 318.70 H67.3" stroke="#111" stroke-width="1.3"/>
<text x="63.00" y="321.00" class="yt">40</text>
<path d="M63.80 301.30 H67.3" stroke="#111" stroke-width="1.3"/>
<text x="63.00" y="303.60" class="yt">60</text>
<path d="M63.80 283.90 H67.3" stroke="#111" stroke-width="1.3"/>
<text x="63.00" y="286.20" class="yt">80</text>
<path d="M63.80 266.50 H67.3" stroke="#111" stroke-width="1.3"/>
<text x="63.00" y="268.80" class="yt">100</text>
<path d="M73.32 354 V356.6" stroke="#111" stroke-width="1.3"/>
<text x="73.32" y="363.60" class="xt">0</text>
<path d="M85.40 354 V356.6" stroke="#111" stroke-width="1.3"/>
<text x="85.40" y="363.60" class="xt">2</text>
<path d="M97.48 354 V356.6" stroke="#111" stroke-width="1.3"/>
<text x="97.48" y="363.60" class="xt">4</text>
<path d="M109.56 354 V356.6" stroke="#111" stroke-width="1.3"/>
<text x="109.56" y="363.60" class="xt">6</text>
<path d="M121.64 354 V356.6" stroke="#111" stroke-width="1.3"/>
<text x="121.64" y="363.60" class="xt">8</text>
<path d="M133.72 354 V356.6" stroke="#111" stroke-width="1.3"/>
<text x="133.72" y="363.60" class="xt">10</text>
<path d="M145.80 354 V356.6" stroke="#111" stroke-width="1.3"/>
<text x="145.80" y="363.60" class="xt">12</text>
<path d="M157.88 354 V356.6" stroke="#111" stroke-width="1.3"/>
<text x="157.88" y="363.60" class="xt">14</text>
<path d="M169.96 354 V356.6" stroke="#111" stroke-width="1.3"/>
<text x="169.96" y="363.60" class="xt">16</text>
<text transform="translate(49.90,309.20) rotate(-90)" class="yl" textLength="57.2" lengthAdjust="spacingAndGlyphs">Proportion (%)</text>
<text x="88.00" y="260.9" class="tt">75%<tspan> Ma</tspan> / 25%<tspan> So</tspan></text>
<text x="161.70" y="259.70" class="lt">i</text>
<text x="106.40" y="374.10" class="xl" textLength="31.7" lengthAdjust="spacingAndGlyphs">Time (d)</text>
<rect x="191.20" y="266.00" width="102.68" height="87.00" fill="#10807b"/>
<path d="M191.20 353 L191.20 266.00 L197.24 266.00 L197.24 269.74 L203.28 269.74 L203.28 266.00 L209.32 266.00 L209.32 269.48 L215.36 269.48 L215.36 266.00 L221.40 266.00 L221.40 266.00 L227.44 266.00 L227.44 269.48 L233.48 269.48 L233.48 268.35 L239.52 268.35 L239.52 273.66 L245.56 273.66 L245.56 272.00 L251.60 272.00 L251.60 270.78 L257.64 270.78 L257.64 269.74 L263.68 269.74 L263.68 269.74 L269.72 269.74 L269.72 271.48 L275.76 271.48 L275.76 268.18 L281.80 268.18 L281.80 272.00 L287.84 272.00 L287.84 272.00 L293.88 272.00 L293.88 353 Z" fill="#ffc834"/>
<path d="M191.20 353 L191.20 266.00 L197.24 266.00 L197.24 269.74 L203.28 269.74 L203.28 266.00 L209.32 266.00 L209.32 269.48 L215.36 269.48 L215.36 266.00 L221.40 266.00 L221.40 270.00 L227.44 270.00 L227.44 269.48 L233.48 269.48 L233.48 268.35 L239.52 268.35 L239.52 275.48 L245.56 275.48 L245.56 272.00 L251.60 272.00 L251.60 270.78 L257.64 270.78 L257.64 269.74 L263.68 269.74 L263.68 269.74 L269.72 269.74 L269.72 271.48 L275.76 271.48 L275.76 268.18 L281.80 268.18 L281.80 272.00 L287.84 272.00 L287.84 272.00 L293.88 272.00 L293.88 353 Z" fill="#02ccfd"/>
<path d="M191.20 353 L191.20 284.18 L197.24 284.18 L197.24 293.23 L203.28 293.23 L203.28 314.02 L209.32 314.02 L209.32 290.97 L215.36 290.97 L215.36 312.55 L221.40 312.55 L221.40 280.01 L227.44 280.01 L227.44 299.23 L233.48 299.23 L233.48 306.54 L239.52 306.54 L239.52 316.72 L245.56 316.72 L245.56 310.20 L251.60 310.20 L251.60 313.24 L257.64 313.24 L257.64 302.02 L263.68 302.02 L263.68 313.24 L269.72 313.24 L269.72 304.02 L275.76 304.02 L275.76 306.19 L281.80 306.19 L281.80 311.76 L287.84 311.76 L287.84 311.76 L293.88 311.76 L293.88 353 Z" fill="#fc5e5e"/>
<path d="M191.20 353 L191.20 292.97 L197.24 292.97 L197.24 293.23 L203.28 293.23 L203.28 325.51 L209.32 325.51 L209.32 315.50 L215.36 315.50 L215.36 315.85 L221.40 315.85 L221.40 286.01 L227.44 286.01 L227.44 310.98 L233.48 310.98 L233.48 321.85 L239.52 321.85 L239.52 328.47 L245.56 328.47 L245.56 326.90 L251.60 326.90 L251.60 333.51 L257.64 333.51 L257.64 319.77 L263.68 319.77 L263.68 330.81 L269.72 330.81 L269.72 320.81 L275.76 320.81 L275.76 332.47 L281.80 332.47 L281.80 328.03 L287.84 328.03 L287.84 335.51 L293.88 335.51 L293.88 353 Z" fill="#af8cd9"/>
<path d="M188.20 266 V354 M184.70 353.5 H296.88" stroke="#111" stroke-width="1.3" fill="none"/>
<path d="M184.70 353.50 H188.2" stroke="#111" stroke-width="1.3"/>
<text x="183.90" y="355.80" class="yt">0</text>
<path d="M184.70 336.10 H188.2" stroke="#111" stroke-width="1.3"/>
<text x="183.90" y="338.40" class="yt">20</text>
<path d="M184.70 318.70 H188.2" stroke="#111" stroke-width="1.3"/>
<text x="183.90" y="321.00" class="yt">40</text>
<path d="M184.70 301.30 H188.2" stroke="#111" stroke-width="1.3"/>
<text x="183.90" y="303.60" class="yt">60</text>
<path d="M184.70 283.90 H188.2" stroke="#111" stroke-width="1.3"/>
<text x="183.90" y="286.20" class="yt">80</text>
<path d="M184.70 266.50 H188.2" stroke="#111" stroke-width="1.3"/>
<text x="183.90" y="268.80" class="yt">100</text>
<path d="M194.22 354 V356.6" stroke="#111" stroke-width="1.3"/>
<text x="194.22" y="363.60" class="xt">0</text>
<path d="M206.30 354 V356.6" stroke="#111" stroke-width="1.3"/>
<text x="206.30" y="363.60" class="xt">2</text>
<path d="M218.38 354 V356.6" stroke="#111" stroke-width="1.3"/>
<text x="218.38" y="363.60" class="xt">4</text>
<path d="M230.46 354 V356.6" stroke="#111" stroke-width="1.3"/>
<text x="230.46" y="363.60" class="xt">6</text>
<path d="M242.54 354 V356.6" stroke="#111" stroke-width="1.3"/>
<text x="242.54" y="363.60" class="xt">8</text>
<path d="M254.62 354 V356.6" stroke="#111" stroke-width="1.3"/>
<text x="254.62" y="363.60" class="xt">10</text>
<path d="M266.70 354 V356.6" stroke="#111" stroke-width="1.3"/>
<text x="266.70" y="363.60" class="xt">12</text>
<path d="M278.78 354 V356.6" stroke="#111" stroke-width="1.3"/>
<text x="278.78" y="363.60" class="xt">14</text>
<path d="M290.86 354 V356.6" stroke="#111" stroke-width="1.3"/>
<text x="290.86" y="363.60" class="xt">16</text>
<text x="205.90" y="260.9" class="tt">50%<tspan> Ma</tspan> / 50%<tspan> So</tspan></text>
<text x="286.30" y="259.70" class="lt">j</text>
<text x="227.30" y="374.10" class="xl" textLength="31.7" lengthAdjust="spacingAndGlyphs">Time (d)</text>
<rect x="313.30" y="266.00" width="102.68" height="87.00" fill="#10807b"/>
<path d="M313.30 353 L313.30 271.48 L319.34 271.48 L319.34 266.00 L325.38 266.00 L325.38 269.22 L331.42 269.22 L331.42 266.00 L337.46 266.00 L337.46 273.48 L343.50 273.48 L343.50 269.74 L349.54 269.74 L349.54 266.00 L355.58 266.00 L355.58 270.78 L361.62 270.78 L361.62 266.70 L367.66 266.70 L367.66 271.48 L373.70 271.48 L373.70 269.22 L379.74 269.22 L379.74 270.18 L385.78 270.18 L385.78 272.00 L391.82 272.00 L391.82 271.48 L397.86 271.48 L397.86 277.83 L403.90 277.83 L403.90 272.00 L409.94 272.00 L409.94 268.96 L415.98 268.96 L415.98 353 Z" fill="#ffc834"/>
<path d="M313.30 353 L313.30 271.48 L319.34 271.48 L319.34 266.00 L325.38 266.00 L325.38 269.22 L331.42 269.22 L331.42 266.00 L337.46 266.00 L337.46 273.48 L343.50 273.48 L343.50 276.18 L349.54 276.18 L349.54 266.00 L355.58 266.00 L355.58 270.78 L361.62 270.78 L361.62 271.83 L367.66 271.83 L367.66 271.48 L373.70 271.48 L373.70 269.22 L379.74 269.22 L379.74 270.18 L385.78 270.18 L385.78 272.00 L391.82 272.00 L391.82 271.48 L397.86 271.48 L397.86 279.83 L403.90 279.83 L403.90 272.00 L409.94 272.00 L409.94 268.96 L415.98 268.96 L415.98 353 Z" fill="#02ccfd"/>
<path d="M313.30 353 L313.30 299.41 L319.34 299.41 L319.34 273.22 L325.38 273.22 L325.38 328.03 L331.42 328.03 L331.42 303.50 L337.46 303.50 L337.46 306.02 L343.50 306.02 L343.50 290.97 L349.54 290.97 L349.54 310.02 L355.58 310.02 L355.58 316.11 L361.62 316.11 L361.62 311.24 L367.66 311.24 L367.66 305.50 L373.70 305.50 L373.70 309.15 L379.74 309.15 L379.74 305.50 L385.78 305.50 L385.78 307.50 L391.82 307.50 L391.82 299.23 L397.86 299.23 L397.86 314.02 L403.90 314.02 L403.90 306.19 L409.94 306.19 L409.94 306.19 L415.98 306.19 L415.98 353 Z" fill="#fc5e5e"/>
<path d="M313.30 353 L313.30 324.03 L319.34 324.03 L319.34 300.97 L325.38 300.97 L325.38 340.82 L331.42 340.82 L331.42 322.20 L337.46 322.20 L337.46 317.76 L343.50 317.76 L343.50 310.02 L349.54 310.02 L349.54 316.02 L355.58 316.02 L355.58 328.81 L361.62 328.81 L361.62 328.99 L367.66 328.99 L367.66 324.20 L373.70 324.20 L373.70 332.03 L379.74 332.03 L379.74 326.99 L385.78 326.99 L385.78 330.03 L391.82 330.03 L391.82 315.94 L397.86 315.94 L397.86 337.17 L403.90 337.17 L403.90 330.99 L409.94 330.99 L409.94 326.99 L415.98 326.99 L415.98 353 Z" fill="#af8cd9"/>
<path d="M310.30 266 V354 M306.80 353.5 H418.98" stroke="#111" stroke-width="1.3" fill="none"/>
<path d="M306.80 353.50 H310.3" stroke="#111" stroke-width="1.3"/>
<text x="306.00" y="355.80" class="yt">0</text>
<path d="M306.80 336.10 H310.3" stroke="#111" stroke-width="1.3"/>
<text x="306.00" y="338.40" class="yt">20</text>
<path d="M306.80 318.70 H310.3" stroke="#111" stroke-width="1.3"/>
<text x="306.00" y="321.00" class="yt">40</text>
<path d="M306.80 301.30 H310.3" stroke="#111" stroke-width="1.3"/>
<text x="306.00" y="303.60" class="yt">60</text>
<path d="M306.80 283.90 H310.3" stroke="#111" stroke-width="1.3"/>
<text x="306.00" y="286.20" class="yt">80</text>
<path d="M306.80 266.50 H310.3" stroke="#111" stroke-width="1.3"/>
<text x="306.00" y="268.80" class="yt">100</text>
<path d="M316.32 354 V356.6" stroke="#111" stroke-width="1.3"/>
<text x="316.32" y="363.60" class="xt">0</text>
<path d="M328.40 354 V356.6" stroke="#111" stroke-width="1.3"/>
<text x="328.40" y="363.60" class="xt">2</text>
<path d="M340.48 354 V356.6" stroke="#111" stroke-width="1.3"/>
<text x="340.48" y="363.60" class="xt">4</text>
<path d="M352.56 354 V356.6" stroke="#111" stroke-width="1.3"/>
<text x="352.56" y="363.60" class="xt">6</text>
<path d="M364.64 354 V356.6" stroke="#111" stroke-width="1.3"/>
<text x="364.64" y="363.60" class="xt">8</text>
<path d="M376.72 354 V356.6" stroke="#111" stroke-width="1.3"/>
<text x="376.72" y="363.60" class="xt">10</text>
<path d="M388.80 354 V356.6" stroke="#111" stroke-width="1.3"/>
<text x="388.80" y="363.60" class="xt">12</text>
<path d="M400.88 354 V356.6" stroke="#111" stroke-width="1.3"/>
<text x="400.88" y="363.60" class="xt">14</text>
<path d="M412.96 354 V356.6" stroke="#111" stroke-width="1.3"/>
<text x="412.96" y="363.60" class="xt">16</text>
<text x="328.00" y="260.9" class="tt">25%<tspan> Ma</tspan> / 75%<tspan> So</tspan></text>
<text x="408.10" y="259.70" class="lt">k</text>
<text x="349.40" y="374.10" class="xl" textLength="31.7" lengthAdjust="spacingAndGlyphs">Time (d)</text>
<rect x="434.50" y="266.00" width="102.68" height="87.00" fill="#10807b"/>
<path d="M434.50 353 L434.50 270.52 L440.54 270.52 L440.54 268.18 L446.58 268.18 L446.58 268.18 L452.62 268.18 L452.62 268.61 L458.66 268.61 L458.66 268.18 L464.70 268.18 L464.70 266.00 L470.74 266.00 L470.74 272.00 L476.78 272.00 L476.78 270.78 L482.82 270.78 L482.82 268.18 L488.86 268.18 L488.86 266.70 L494.90 266.70 L494.90 268.18 L500.94 268.18 L500.94 269.05 L506.98 269.05 L506.98 268.18 L513.02 268.18 L513.02 268.18 L519.06 268.18 L519.06 270.96 L525.10 270.96 L525.10 268.18 L531.14 268.18 L531.14 268.44 L537.18 268.44 L537.18 353 Z" fill="#ffc834"/>
<path d="M434.50 353 L434.50 270.52 L440.54 270.52 L440.54 268.18 L446.58 268.18 L446.58 271.83 L452.62 271.83 L452.62 271.65 L458.66 271.65 L458.66 269.48 L464.70 269.48 L464.70 266.00 L470.74 266.00 L470.74 272.00 L476.78 272.00 L476.78 276.79 L482.82 276.79 L482.82 268.18 L488.86 268.18 L488.86 272.52 L494.90 272.52 L494.90 268.18 L500.94 268.18 L500.94 273.83 L506.98 273.83 L506.98 272.00 L513.02 272.00 L513.02 268.18 L519.06 268.18 L519.06 270.96 L525.10 270.96 L525.10 268.18 L531.14 268.18 L531.14 268.44 L537.18 268.44 L537.18 353 Z" fill="#02ccfd"/>
<path d="M434.50 353 L434.50 313.85 L440.54 313.85 L440.54 316.11 L446.58 316.11 L446.58 313.50 L452.62 313.50 L452.62 313.24 L458.66 313.24 L458.66 304.98 L464.70 304.98 L464.70 297.15 L470.74 297.15 L470.74 303.24 L476.78 303.24 L476.78 310.46 L482.82 310.46 L482.82 295.49 L488.86 295.49 L488.86 302.45 L494.90 302.45 L494.90 294.97 L500.94 294.97 L500.94 290.97 L506.98 290.97 L506.98 293.84 L513.02 293.84 L513.02 296.10 L519.06 296.10 L519.06 313.50 L525.10 313.50 L525.10 312.20 L531.14 312.20 L531.14 313.24 L537.18 313.24 L537.18 353 Z" fill="#fc5e5e"/>
<path d="M434.50 353 L434.50 324.46 L440.54 324.46 L440.54 329.77 L446.58 329.77 L446.58 324.81 L452.62 324.81 L452.62 324.81 L458.66 324.81 L458.66 324.99 L464.70 324.99 L464.70 319.50 L470.74 319.50 L470.74 320.03 L476.78 320.03 L476.78 326.64 L482.82 326.64 L482.82 322.29 L488.86 322.29 L488.86 314.89 L494.90 314.89 L494.90 318.11 L500.94 318.11 L500.94 308.98 L506.98 308.98 L506.98 314.89 L513.02 314.89 L513.02 316.29 L519.06 316.29 L519.06 331.51 L525.10 331.51 L525.10 330.47 L531.14 330.47 L531.14 332.99 L537.18 332.99 L537.18 353 Z" fill="#af8cd9"/>
<path d="M431.50 266 V354 M428.00 353.5 H540.18" stroke="#111" stroke-width="1.3" fill="none"/>
<path d="M428.00 353.50 H431.5" stroke="#111" stroke-width="1.3"/>
<text x="427.20" y="355.80" class="yt">0</text>
<path d="M428.00 336.10 H431.5" stroke="#111" stroke-width="1.3"/>
<text x="427.20" y="338.40" class="yt">20</text>
<path d="M428.00 318.70 H431.5" stroke="#111" stroke-width="1.3"/>
<text x="427.20" y="321.00" class="yt">40</text>
<path d="M428.00 301.30 H431.5" stroke="#111" stroke-width="1.3"/>
<text x="427.20" y="303.60" class="yt">60</text>
<path d="M428.00 283.90 H431.5" stroke="#111" stroke-width="1.3"/>
<text x="427.20" y="286.20" class="yt">80</text>
<path d="M428.00 266.50 H431.5" stroke="#111" stroke-width="1.3"/>
<text x="427.20" y="268.80" class="yt">100</text>
<path d="M437.52 354 V356.6" stroke="#111" stroke-width="1.3"/>
<text x="437.52" y="363.60" class="xt">0</text>
<path d="M449.60 354 V356.6" stroke="#111" stroke-width="1.3"/>
<text x="449.60" y="363.60" class="xt">2</text>
<path d="M461.68 354 V356.6" stroke="#111" stroke-width="1.3"/>
<text x="461.68" y="363.60" class="xt">4</text>
<path d="M473.76 354 V356.6" stroke="#111" stroke-width="1.3"/>
<text x="473.76" y="363.60" class="xt">6</text>
<path d="M485.84 354 V356.6" stroke="#111" stroke-width="1.3"/>
<text x="485.84" y="363.60" class="xt">8</text>
<path d="M497.92 354 V356.6" stroke="#111" stroke-width="1.3"/>
<text x="497.92" y="363.60" class="xt">10</text>
<path d="M510.00 354 V356.6" stroke="#111" stroke-width="1.3"/>
<text x="510.00" y="363.60" class="xt">12</text>
<path d="M522.08 354 V356.6" stroke="#111" stroke-width="1.3"/>
<text x="522.08" y="363.60" class="xt">14</text>
<path d="M534.16 354 V356.6" stroke="#111" stroke-width="1.3"/>
<text x="534.16" y="363.60" class="xt">16</text>
<text x="463.60" y="260.9" class="tr">100% <tspan font-style="italic">So</tspan></text>
<text x="526.50" y="259.70" class="lt">l</text>
<text x="470.60" y="374.10" class="xl" textLength="31.7" lengthAdjust="spacingAndGlyphs">Time (d)</text>
<rect x="72.4" y="69.3" width="47.6" height="40" fill="#e5e5e5"/>
<rect x="76.6" y="72.90" width="9.4" height="4.8" fill="#10807b"/>
<text x="91.3" y="77.90" class="lg">rest</text>
<rect x="76.6" y="80.42" width="9.4" height="4.8" fill="#ffc834"/>
<text x="91.3" y="85.42" class="lg">8-celled</text>
<rect x="76.6" y="87.94" width="9.4" height="4.8" fill="#02ccfd"/>
<text x="91.3" y="92.94" class="lg">4-celled</text>
<rect x="76.6" y="95.46" width="9.4" height="4.8" fill="#fc5e5e"/>
<text x="91.3" y="100.46" class="lg">2-celled</text>
<rect x="76.6" y="102.98" width="9.4" height="4.8" fill="#af8cd9"/>
<text x="91.3" y="107.98" class="lg">unicells</text>
<path d="M4.5 4 V379 M544.3 4 V379 M39.8 4 V379 M4 4.5 H545 M4 126 H545 M4 247.3 H545 M4 378.3 H545" stroke="#5a5a5a" stroke-width="1.1" fill="none"/>
<text x="22" y="68.8" class="rl">0</text>
<text x="22" y="190.3" class="rl">3</text>
<text x="22" y="316.3" class="rl">6</text>
</svg>
</body></html>
